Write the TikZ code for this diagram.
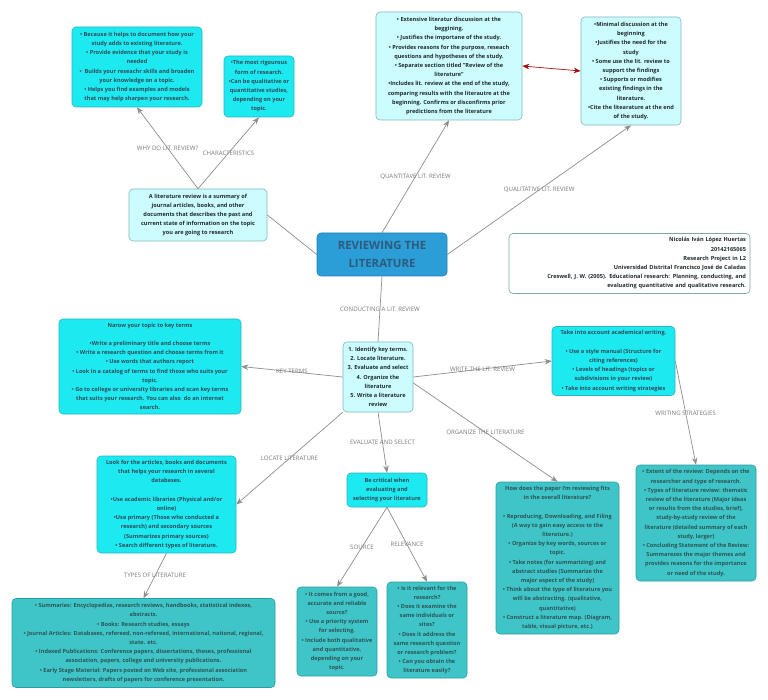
\documentclass[tikz,border=0pt]{standalone}
\usepackage{fontspec}
\setmainfont{Open Sans}
\usetikzlibrary{arrows.meta}
\definecolor{cyanf}{HTML}{1DE9F0}
\definecolor{cyand}{HTML}{2BB5BD}
\definecolor{lightf}{HTML}{CCFCFE}
\definecolor{lightd}{HTML}{7FB8BC}
\definecolor{tealf}{HTML}{3FC5C8}
\definecolor{teald}{HTML}{2A9EA2}
\definecolor{titlef}{HTML}{2B9ED8}
\definecolor{titled}{HTML}{1F80B5}
\definecolor{titlet}{HTML}{2E5B7B}
\definecolor{cyant}{HTML}{2E4B5A}
\definecolor{tealt}{HTML}{2C5456}
\definecolor{lightt}{HTML}{1E2A2E}
\definecolor{linec}{HTML}{8E8E8E}
\definecolor{lblc}{HTML}{7A7A7A}
\definecolor{redc}{HTML}{A01010}
\begin{document}
\begin{tikzpicture}[x=1pt,y=-1pt,
 base/.style={rectangle,rounded corners=4pt,draw,line width=0.6pt,inner sep=0pt,align=center,font=\fontsize{5.6}{9.2}\selectfont\bfseries},
 cyanbox/.style={base,fill=cyanf,draw=cyand,text=cyant},
 lightbox/.style={base,fill=lightf,draw=lightd,text=lightt},
 tealbox/.style={base,fill=tealf,draw=teald,text=tealt},
 conn/.style={draw=linec,line width=0.7pt},
 arr/.style={conn,-{Stealth[length=7pt,width=5.5pt]}},
 lbl/.style={font=\fontsize{6.1}{7}\selectfont,text=lblc,inner sep=1pt},
 sz/.style 2 args={minimum width=#1pt,minimum height=#2pt},
]
\fill[white] (0,0) rectangle (768,700);
\useasboundingbox (0,0) rectangle (768,700);

\node[cyanbox,sz={130}{80}] (why) at (137,67) {• Because it helps to document how your\\study adds to existing literature.\\• Provide evidence that your study is\\needed\\• \ Builds your reseachr skills and broaden\\your knowledge on a topic.\\• Helps you find examples and models\\that may help sharpen your research.};

\node[cyanbox,sz={70}{61}] (char) at (259,86.5) {•The most rigourous\\form of research.\\•Can be qualitative or\\quantitative studies,\\depending on your\\topic.};

\node[lightbox,sz={146}{108}] (quant) at (449,66) {• Extensive literatur discussion at the\\beggining.\\• Justifies the importane of the study.\\• Provides reasons for the purpose, reseach\\questions and hypotheses of the study.\\• Separate section titled "Review of the\\literature"\\•Includes lit. review at the end of the study,\\comparing results with the literautre at the\\beginning. Confirms or disconfirms prior\\predictions from the literature};

\node[lightbox,sz={100}{108}] (qual) at (631,71) {•Minimal discussion at the\\beginning\\•Justifies the need for the\\study\\• Some use the lit. review to\\support the findings\\• Supports or modifies\\existing findings in the\\literature.\\•Cite the litearature at the end\\of the study.};

\node[lightbox,sz={138}{52}] (def) at (198,215) {A literature review is a summary of\\journal articles, books, and other\\documents that describes the past and\\current state of information on the topic\\you are going to research};

\node[base,fill=titlef,draw=titled,text=titlet,sz={130}{43},font=\fontsize{11.4}{18.5}\selectfont\bfseries] (title) at (382,254.5) {REVIEWING THE\\LITERATURE};

\node[base,fill=white,draw=lightd!70!gray,text=lightt,sz={241}{60},align=right,text width=233pt] (author) at (629.5,263.5) {Nicolás Iván López Huertas\\20142165065\\Research Project in L2\\Universidad Distrital Francisco José de Caladas\\Creswell, J. W. (2005). Educational research: Planning, conducting, and\\evaluating quantitative and qualitative research.};

\node[cyanbox,sz={182}{95}] (narrow) at (150,366.5) {Narow your topic to key terms\\\mbox{}\\•Write a preliminary title and choose terms\\• Write a research question and choose terms from it\\• Use words that authors report\\• Look in a catalog of terms to find those who suits your\\topic.\\• Go to college or university libraries and scan key terms\\that suits your research. You can also \ do an internet\\search.};

\node[lightbox,sz={70}{70}] (steps) at (378,377) {1. Identify key terms.\\2. Locate literature.\\3. Evaluate and select\\4. Organize the\\literature\\5. Write a literature\\review};

\node[cyanbox,sz={123}{69}] (writing) at (613.5,361) {Take into account academical writing.\\\mbox{}\\• Use a style manual (Structure for\\citing references)\\• Levels of headings (topics or\\subdivisions in your review)\\• Take into account writing strategies};

\node[cyanbox,sz={139}{97}] (look) at (166.5,504.5) {Look for the articles, books and documents\\that helps your research in several\\databases.\\\mbox{}\\•Use academic libraries (Physical and/or\\online)\\•Use primary (Those who conducted a\\research) and secondary sources\\(Summarizes primary sources)\\• Search different types of literature.};

\node[cyanbox,sz={80}{34}] (critical) at (387,490) {Be critical when\\evaluating and\\selecting your literature};

\node[tealbox,sz={80}{89}] (source) at (337,631.5) {• It comes from a good,\\accurate and reliable\\source?\\• Use a priority system\\for selecting.\\• Include both qualitative\\and quantitative,\\depending on your\\topic.};

\node[tealbox,sz={80}{96}] (relevance) at (427,630) {• Is it relevant for the\\research?\\• Does it examine the\\same individuals or\\sites?\\• Does it address the\\same research question\\or research problem?\\• Can you obtain the\\literature easily?};

\node[tealbox,sz={123}{152}] (organize) at (557.5,558) {How does the paper I'm reviewing fits\\in the overall literature?\\\mbox{}\\• Reproducing, Downloading, and Filing\\(A way to gain easy access to the\\literature.)\\• Organize by key words, sources or\\topic.\\• Take notes (for summarizing) and\\abstract studies (Summarize the\\major aspect of the study)\\• Think about the type of literature you\\will be abstracting. (qualitative,\\quantitative)\\• Construct a literature map. (Diagram,\\table, visual picture, etc.)};

\node[tealbox,sz={120}{116}] (strategies) at (696,523) {• Extent of the review: Depends on the\\researcher and type of research.\\• Types of literature review: thematic\\review of the literature (Major ideas\\or results from the studies, brief),\\study-by-study review of the\\literature (detailed summary of each\\study, larger)\\• Concluding Statement of the Review:\\Summarezes the major themes and\\provides reasons for the importance\\or need of the study.};

\node[tealbox,sz={263}{89}] (types) at (143.5,643) {• Summaries: Encyclopedias, research reviews, handbooks, statistical indexes,\\abstracts.\\• Books: Research studies, essays\\• Journal Articles: Databases, refereed, non-refereed, international, national, regional,\\state. etc.\\• Indexed Publications: Conference papers, dissertations, theses, professional\\association, papers, college and university publications.\\• Early Stage Material: Papers posted on Web site, professional association\\newsletters, drafts of papers for conference presentation.};

% connectors
\draw[arr] (def.north) -- node[lbl,midway] (lwhy) {WHY DO LIT. REVIEW?} (why.south);
\draw[arr] (def.north) -- node[lbl,midway] (lchar) {CHARACTERISTICS} (char.south);
\draw[conn] (def.east) -- (title.west);
\draw[arr] (title.north) -- node[lbl,midway] (lquant) {QUANTITAVE LIT. REVIEW} (quant.south);
\draw[arr] (title.east) -- node[lbl,midway] (lqual) {QUALITATIVE LIT. REVIEW} (qual.south);
\draw[draw=redc,line width=0.7pt,{Stealth[length=7pt,width=5.5pt]}-{Stealth[length=7pt,width=5.5pt]}] (quant.east) -- (qual.west);
\draw[conn] (title.south) -- node[lbl,midway] (lcond) {CONDUCTING A LIT. REVIEW} (steps.north);
\draw[arr] (steps.west) -- node[lbl,midway] (lkey) {KEY TERMS} (narrow.east);
\draw[arr] (steps.east) -- node[lbl,midway] (lwrite) {WRITE THE LIT. REVIEW} (writing.west);
\draw[arr] (steps.south west) -- node[lbl,midway] (lloc) {LOCATE LITERATURE} (look.east);
\draw[arr] (steps.south) -- node[lbl,midway] (leval) {EVALUATE AND SELECT} (critical.north);
\draw[arr] ([yshift=-6pt]steps.east) -- node[lbl,midway] (lorg) {ORGANIZE THE LITERATURE} (organize.north);
\draw[arr] (writing.east) -- node[lbl,midway] (lstrat) {WRITING STRATEGIES} (strategies.north);
\draw[arr] (look.south) -- node[lbl,midway] (ltypes) {TYPES OF LITERATURE} (types.north);
\draw[arr] (critical.south) -- node[lbl,midway] (lsrc) {SOURCE} (source.north);
\draw[arr] (critical.south) -- node[lbl,midway] (lrel) {RELEVANCE} (relevance.north);
\end{tikzpicture}
\end{document}
